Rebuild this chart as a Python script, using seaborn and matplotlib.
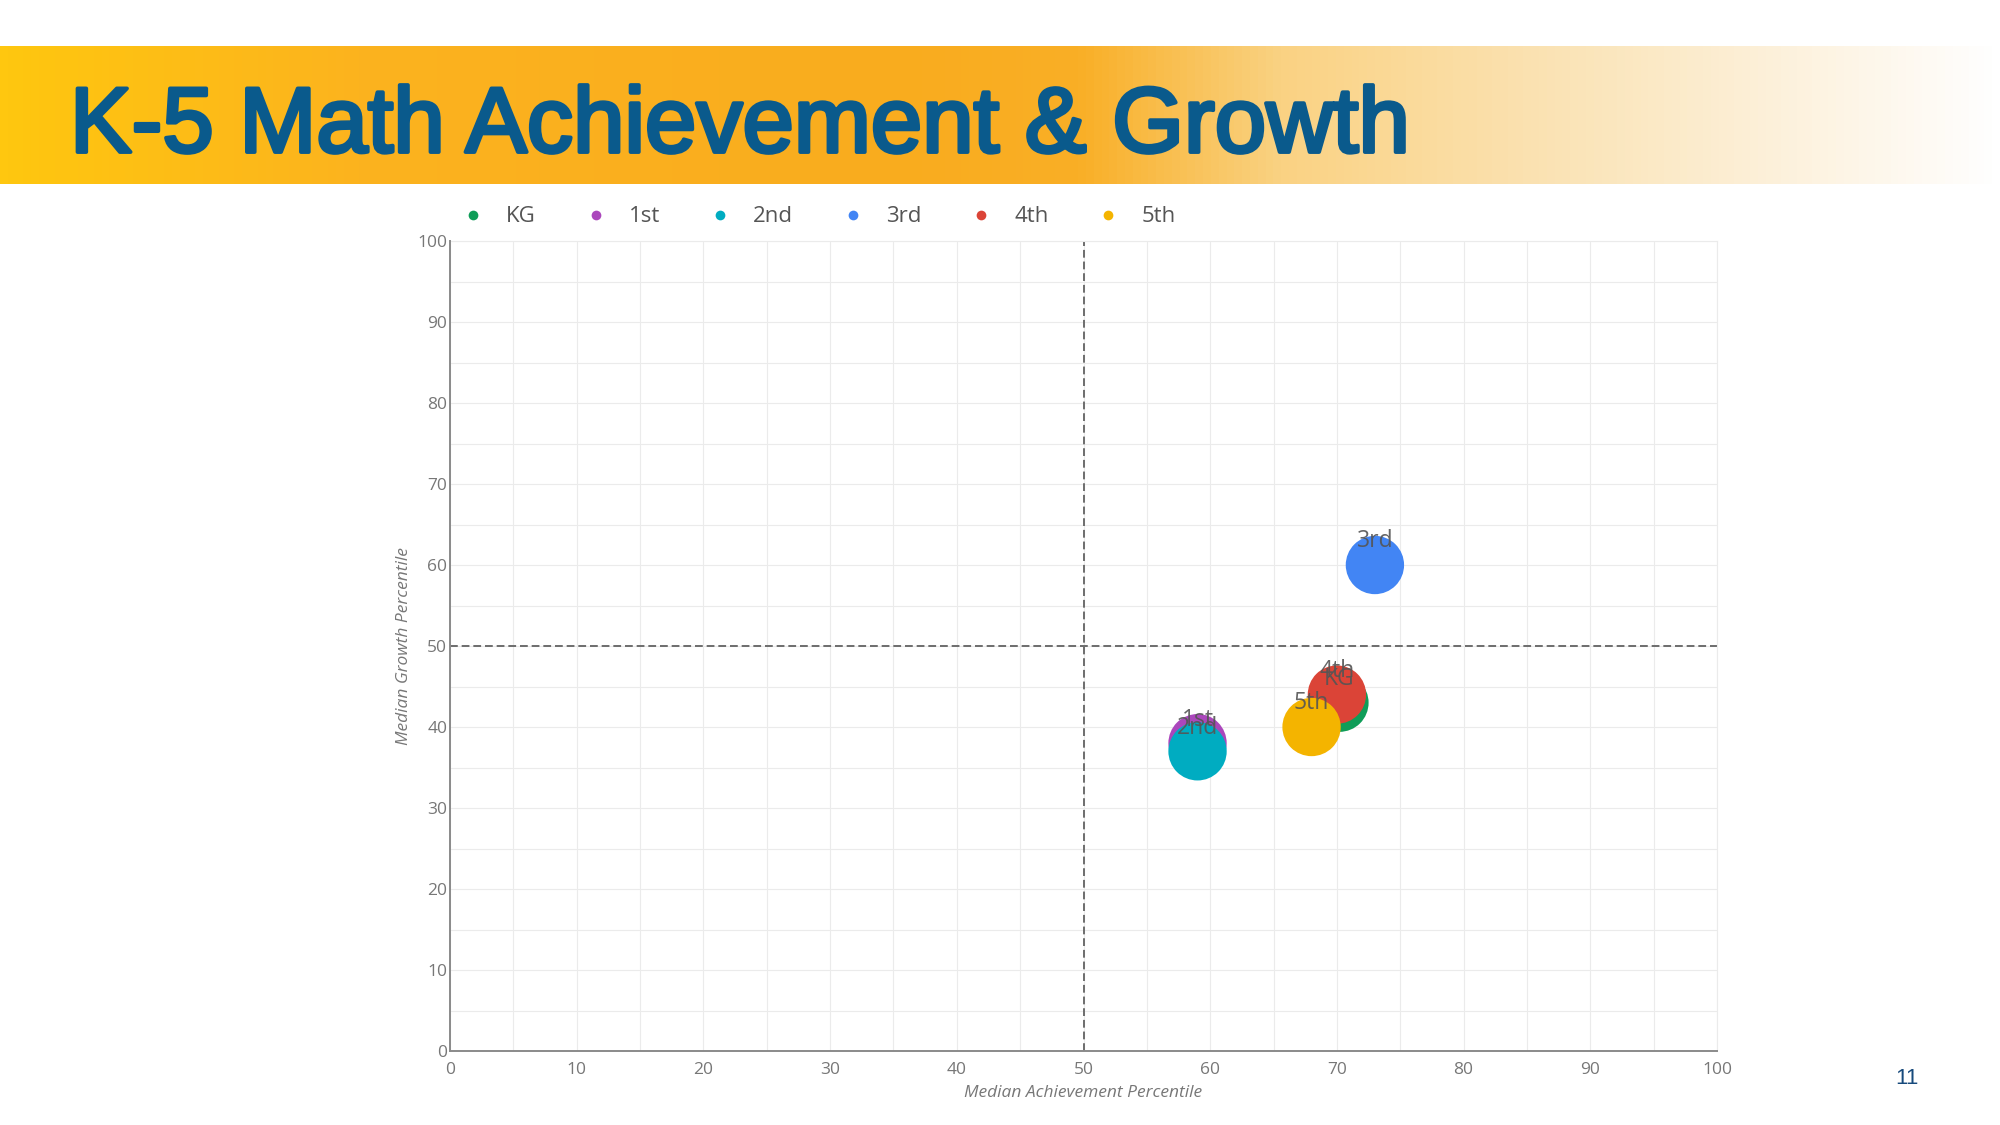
import numpy as np
import pandas as pd
import matplotlib
matplotlib.use("Agg")
import matplotlib.pyplot as plt
import matplotlib.patheffects as pe
from matplotlib.colors import LinearSegmentedColormap
import seaborn as sns

# ---------------- data ----------------
grades = ["KG", "1st", "2nd", "3rd", "4th", "5th"]
achievement = [70.2, 59, 59, 73, 70, 68]
growth = [43, 38, 37, 60, 44, 40]
colors = ["#0F9D58", "#AB47BC", "#00ACC1", "#4285F4", "#DB4437", "#F4B400"]
ticks = list(range(0, 101, 10))
title = "K-5 Math Achievement & Growth"
x_title = "Median Achievement Percentile"
y_title = "Median Growth Percentile"
page_number = "11"

df = pd.DataFrame({"grade": grades, "ach": achievement, "gro": growth})

sns.set_theme(style="white")
plt.rcParams["font.family"] = ["Open Sans", "DejaVu Sans"]

W, H = 2000, 1125
fig = plt.figure(figsize=(W / 100, H / 100), dpi=100)
fig.patch.set_facecolor("white")

# ---------------- banner ----------------
bax = fig.add_axes([0, 1 - 184 / H, 1, (184 - 46) / H])
stops = [
    (0.00, (255, 199, 15)),
    (0.18, (252, 179, 30)),
    (0.45, (249, 172, 30)),
    (0.54, (249, 175, 38)),
    (0.64, (250, 210, 130)),
    (0.77, (250, 226, 178)),
    (0.90, (253, 242, 222)),
    (1.00, (255, 255, 255)),
]
cmap = LinearSegmentedColormap.from_list(
    "banner", [(p, tuple(c / 255 for c in col)) for p, col in stops]
)
grad = np.linspace(0, 1, 512).reshape(1, -1)
bax.imshow(grad, aspect="auto", cmap=cmap, extent=[0, 1, 0, 1])
bax.set_axis_off()

fig.text(
    70 / W, 1 - 152 / H, title,
    fontsize=66.5, family=["Liberation Sans", "DejaVu Sans"],
    color="#0A5A8C", ha="left", va="baseline",
    path_effects=[pe.withStroke(linewidth=2.8, foreground="#0A5A8C")],
)

fig.text(1907 / W, 1 - 1079 / H, page_number, fontsize=16,
         family=["Liberation Sans", "DejaVu Sans"], color="#174A7C",
         ha="center", va="center")

# ---------------- scatter ----------------
ax = fig.add_axes([450 / W, 1 - 1051 / H, (1717 - 450) / W, (1051 - 241) / H])
ax.set_facecolor("white")

sns.scatterplot(
    data=df, x="ach", y="gro", hue="grade", hue_order=grades,
    palette=colors, s=1764, linewidth=0, alpha=1, ax=ax, zorder=3,
)

for g, xv, yv in zip(grades, achievement, growth):
    ax.annotate(g, (xv, yv), xytext=(0, 17), textcoords="offset points",
                ha="center", va="center", fontsize=16.5, color="#555555",
                alpha=0.9, zorder=5)

ax.axvline(50, color="#6d6d6d", lw=1.4, ls=(0, (4, 2)), zorder=2)
ax.axhline(50, color="#6d6d6d", lw=1.4, ls=(0, (4, 2)), zorder=2)

ax.set_xlim(0, 100)
ax.set_ylim(0, 100)
ax.set_xticks(ticks)
ax.set_yticks(ticks)
ax.set_xticks(range(0, 101, 5), minor=True)
ax.set_yticks(range(0, 101, 5), minor=True)
ax.grid(True, which="both", color="#EBEBEB", lw=0.8, zorder=0)
ax.set_axisbelow(True)
ax.tick_params(axis="both", which="both", length=0, labelsize=12.5,
               labelcolor="#777777")
ax.tick_params(axis="x", pad=8)
ax.tick_params(axis="y", pad=2)

for side in ["left", "bottom"]:
    ax.spines[side].set_color("#8a8a8a")
    ax.spines[side].set_linewidth(1.4)
    ax.spines[side].set_zorder(4)
for side in ["top", "right"]:
    ax.spines[side].set_color("#EBEBEB")
    ax.spines[side].set_linewidth(0.8)

ax.set_xlabel(x_title, fontsize=12.5, style="italic", color="#777777", labelpad=5)
ax.set_ylabel(y_title, fontsize=12.5, style="italic", color="#777777", labelpad=4)

handles, labels = ax.get_legend_handles_labels()
leg = ax.legend(
    handles, labels, ncol=6, frameon=False, fontsize=16,
    loc="center left", bbox_to_anchor=(462 / W, 1 - 217 / H),
    bbox_transform=fig.transFigure, borderaxespad=0, borderpad=0,
    handlelength=1.0, handletextpad=0.98, columnspacing=2.2,
    labelcolor="#555555",
)
for h in leg.legend_handles:
    try:
        h.set_markersize(7)
    except Exception:
        h.set_sizes([50])
    h.set_alpha(1)

fig.savefig("out.png", dpi=100, facecolor="white")
